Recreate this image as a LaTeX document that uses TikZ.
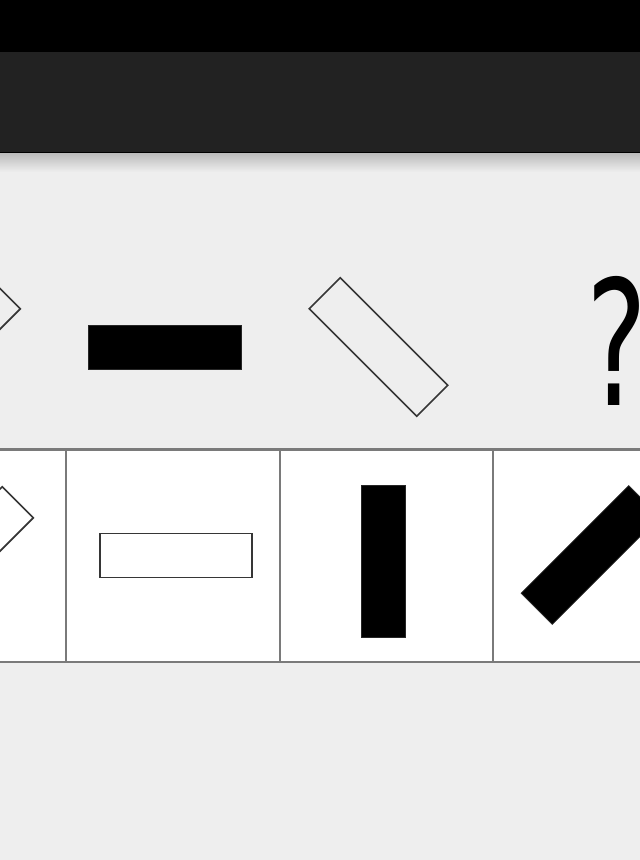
\documentclass[tikz,border=0pt]{standalone}
\usepackage{fontspec}
\newfontfamily\qfont{DejaVu Sans}
\definecolor{screenbg}{HTML}{EEEEEE}
\definecolor{barbg}{HTML}{222222}
\definecolor{shadowgray}{HTML}{BBBBBB}
\definecolor{rulegray}{HTML}{7A7A7A}
\definecolor{shapeline}{HTML}{363636}
\tikzset{
  barshape/.style={minimum width=152pt, minimum height=44pt, inner sep=0pt, outer sep=0pt},
  hollowbar/.style={barshape, draw=shapeline, line width=1.6pt},
  blackbar/.style={barshape, fill=black, draw=black!85, line width=0.8pt},
  cellrule/.style={draw=rulegray, line width=2pt}
}
\begin{document}
\begin{tikzpicture}[x=1pt, y=-1pt]
\useasboundingbox (0,0) rectangle (640,860);
\clip (0,0) rectangle (640,860);
\fill[screenbg] (0,0) rectangle (640,860);
\fill[black] (0,0) rectangle (640,52);
\fill[barbg] (0,52) rectangle (640,152);
\shade[top color=shadowgray, bottom color=screenbg] (0,153) rectangle (640,172);
\draw[black, line width=1pt] (0,152.5) -- (640,152.5);
\node (lefttop)[hollowbar, rotate=45] at (-49,347) {};
\node (toprect)[blackbar, minimum width=153pt] at (165,347.5) {};
\node (tiltrect)[hollowbar, rotate=-45] at (378.5,347) {};
\node (qmark)[anchor=base west, inner sep=0pt, xscale=0.66, font=\qfont\fontsize{174}{174}\selectfont] at (586,405) {?};
\fill[white] (0,450) rectangle (640,662);
\draw[rulegray, line width=3.5pt] (0,449.5) -- (640,449.5);
\draw[cellrule] (66,451) -- (66,662);
\draw[cellrule] (280,451) -- (280,662);
\draw[cellrule] (493,451) -- (493,662);
\draw[rulegray, line width=1.5pt] (0,662) -- (640,662);
\node (optA)[hollowbar, rotate=45] at (-36,556) {};
\node (optB)[hollowbar] at (176,555.5) {};
\node (optC)[blackbar, rotate=90] at (383.5,561) {};
\node (optD)[blackbar, rotate=45] at (590.5,555) {};
\end{tikzpicture}
\end{document}
